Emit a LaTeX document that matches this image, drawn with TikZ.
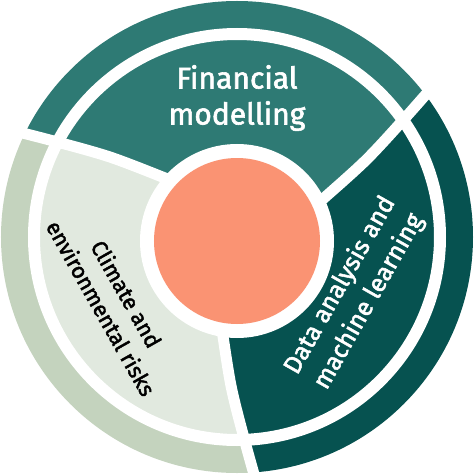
\documentclass[tikz,border=0pt]{standalone}
\usepackage{fontspec}
\setmainfont{Fira Sans}[FakeBold=2]
\definecolor{finteal}{HTML}{2E7A74}
\definecolor{datadark}{HTML}{065250}
\definecolor{climpale}{HTML}{E1E9DF}
\definecolor{climsage}{HTML}{C4D3BE}
\definecolor{coreorange}{HTML}{FA9373}
\begin{document}
\begin{tikzpicture}[x=1pt,y=1pt,
  lbl/.style={align=center,inner sep=0pt},
  bigfont/.style={font=\fontsize{30}{36}\selectfont},
  datafont/.style={font=\fontsize{25}{33}\selectfont},
  climfont/.style={font=\fontsize{22}{29}\selectfont}]
\useasboundingbox (-237,-237) rectangle (237,237);
\foreach \off/\nm in {0/L,120/B,243/R}{
  \coordinate (\nm0) at ({133.8+\off}:67.9);
  \coordinate (\nm1) at ({139.6+\off}:88);
  \coordinate (\nm2) at ({147.8+\off}:150.1);
  \coordinate (\nm3) at ({152.6+\off}:210.7);
  \coordinate (\nm4) at ({155.7+\off}:274.4);
}
\begin{scope}
\clip (0,0) circle (236);
\fill[finteal] (0,0) -- plot[smooth] coordinates {(R0) (R1) (R2) (R3) (R4)} -- (60:340) -- (90:340) -- (130:340) -- plot[smooth] coordinates {(L4) (L3) (L2) (L1) (L0)} -- cycle;
\fill[climsage] (0,0) -- plot[smooth] coordinates {(L0) (L1) (L2) (L3) (L4)} -- (180:340) -- (220:340) -- (250:340) -- plot[smooth] coordinates {(B4) (B3) (B2) (B1) (B0)} -- cycle;
\fill[datadark] (0,0) -- plot[smooth] coordinates {(B0) (B1) (B2) (B3) (B4)} -- (300:340) -- (340:340) -- (370:340) -- plot[smooth] coordinates {(R4) (R3) (R2) (R1) (R0)} -- cycle;
\clip (0,0) circle (203);
\fill[climpale] (0,0) -- plot[smooth] coordinates {(L0) (L1) (L2) (L3) (L4)} -- (180:340) -- (220:340) -- (250:340) -- plot[smooth] coordinates {(B4) (B3) (B2) (B1) (B0)} -- cycle;
\end{scope}
\draw[white,line width=12pt] (0,0) circle (203);
\foreach \nm in {L,B,R}
  \draw[white,line width=11pt] plot[smooth] coordinates {(\nm0) (\nm1) (\nm2) (\nm3) (\nm4)};
\fill[white] (0,-4) circle (97);
\node[circle,fill=coreorange,minimum size=166pt,inner sep=0pt] (core) at (0,-4) {};
\node[lbl,bigfont,text=white] (fin) at (0,139) {Financial\\modelling};
\node[lbl,climfont,text=black,rotate=-60.5] (clim) at (-123,-64) {Climate and\\environmental risks};
\node[lbl,datafont,text=white,rotate=60.5] (data) at (117.5,-56.5) {Data analysis and\\machine learning};
\end{tikzpicture}
\end{document}
